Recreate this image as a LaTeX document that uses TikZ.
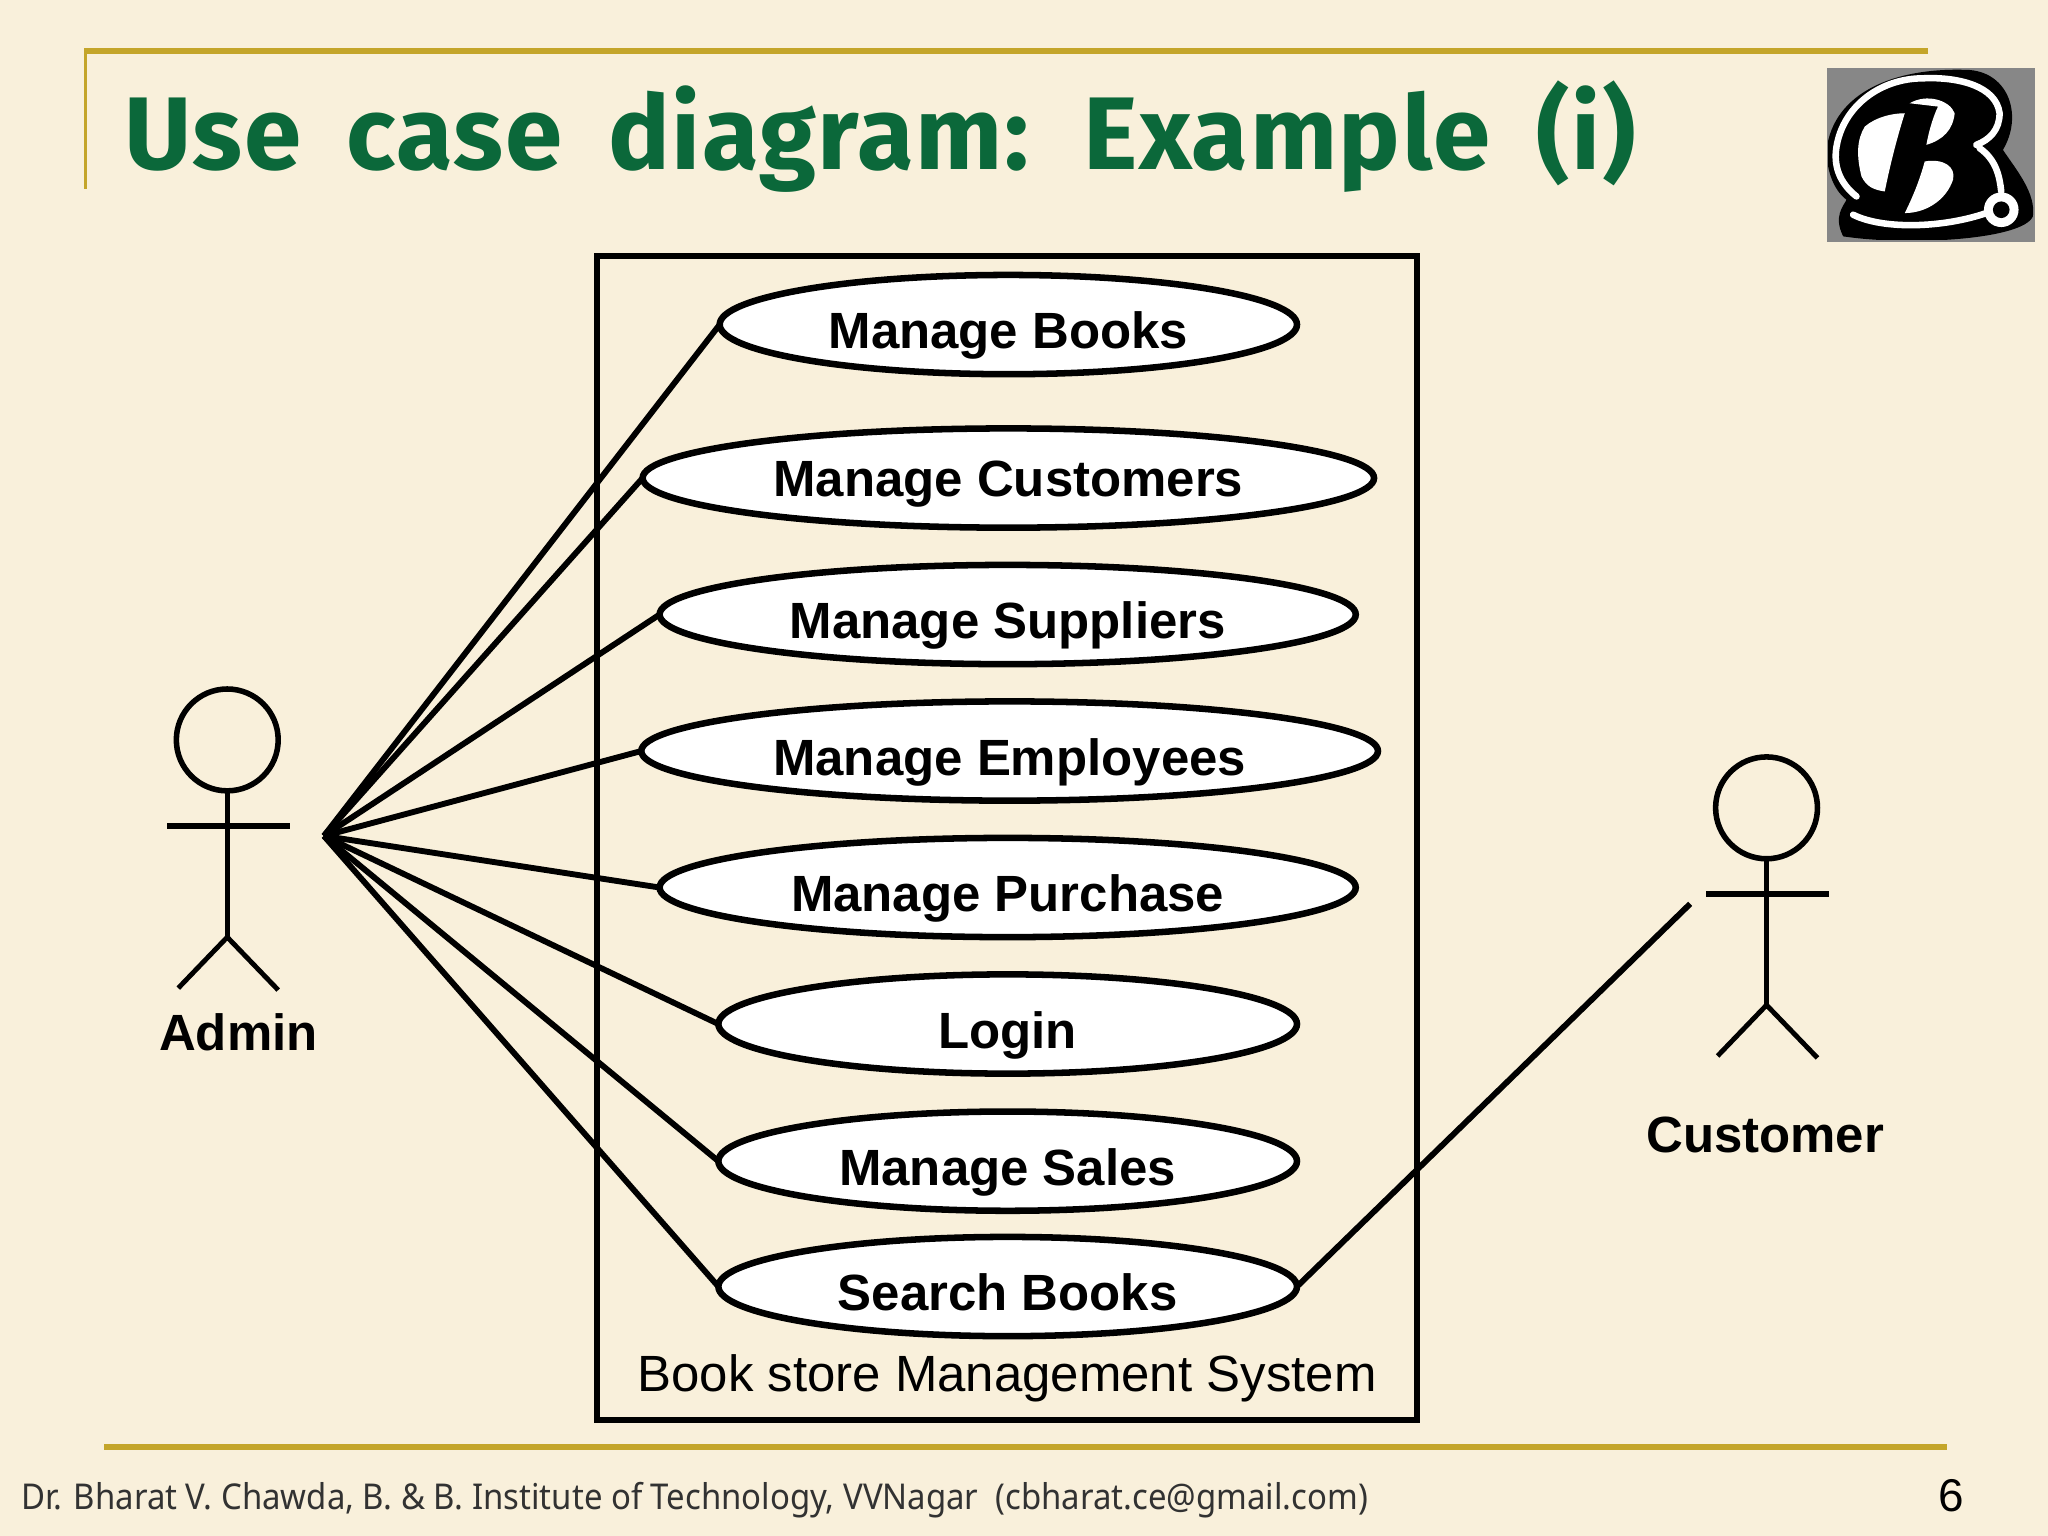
\documentclass[tikz,border=0pt]{standalone}
\usepackage{fontspec}
\usetikzlibrary{shapes.geometric}
\setmainfont{Liberation Sans}
\newfontfamily\titlefont[LetterSpace=1.5, WordSpace=1.755]{Fira Sans}
\newfontfamily\footfont{Noto Sans}
\definecolor{paper}{RGB}{249,240,219}
\definecolor{rulegold}{RGB}{196,165,42}
\definecolor{titlegreen}{RGB}{11,104,58}
\definecolor{footgrey}{RGB}{50,50,50}
\definecolor{logogrey}{RGB}{135,135,135}
\tikzset{
    usecase/.style={draw=black, fill=white, ellipse, line width=0.1cm, inner sep=0pt, outer sep=0pt,
            text depth=0cm, minimum height=1.52cm, font=\fontsize{22.2}{24}\selectfont\bfseries},
    assoc/.style={draw=black, line width=0.09cm},
    limb/.style={draw=black, line width=0.075cm},
    actorname/.style={font=\fontsize{22.2}{24}\selectfont\bfseries},
    logoband/.style={draw=white, line width=0.1cm, line cap=round, line join=round},
}
\begin{document}
\begin{tikzpicture}[x=0.02cm, y=-0.02cm]
        \useasboundingbox (0, 0) rectangle (1568, 1176);
        \fill [paper] (0, 0) rectangle (1568, 1176);
        % header and footer rules
        \fill [rulegold] (64, 36.5) rectangle (1476, 41.5);
        \fill [rulegold] (64, 36.5) rectangle (66.5, 145);
        \fill [rulegold] (80, 1105.5) rectangle (1491, 1110.5);
        \node [anchor=base west, inner sep=0pt, text=titlegreen, font=\fontsize{45}{47}\selectfont\titlefont\bfseries] (title) at (95, 130) {Use case diagram: Example (i)};
        % logo, in units of its own
        \fill [logogrey] (1399, 52) rectangle (1558, 185);
        \begin{scope}[shift={(1385.7, 38.3)}, x=0.0051cm, y=-0.0051cm]
            \clip (55, 55) rectangle (672, 570);
            \fill [black] (50, 300) .. controls (70, 130) and (250, 50) .. (480, 60) .. controls (600, 70) and (640, 200) .. (580, 300) .. controls (620, 360) and (680, 430) .. (670, 500) .. controls (640, 570) and (300, 590) .. (100, 560) .. controls (70, 500) and (100, 470) .. (110, 450) .. controls (70, 420) and (50, 360) .. (50, 300) -- cycle;
            \draw [logoband] (140, 440) .. controls (90, 400) and (70, 350) .. (80, 290) .. controls (100, 170) and (210, 85) .. (340, 85) .. controls (450, 80) and (560, 110) .. (570, 190) .. controls (570, 240) and (540, 270) .. (500, 285);
            \draw [logoband] (130, 495) .. controls (220, 540) and (400, 535) .. (530, 490);
            \draw [logoband] (510, 295) .. controls (560, 330) and (570, 380) .. (575, 425);
            \fill [white] (165, 230) .. controls (200, 200) and (250, 190) .. (285, 190) .. controls (260, 270) and (240, 350) .. (225, 425) .. controls (190, 420) and (170, 410) .. (155, 380) .. controls (140, 320) and (140, 270) .. (165, 230) -- cycle;
            \fill [white] (300, 160) .. controls (350, 130) and (420, 150) .. (435, 190) .. controls (430, 240) and (400, 270) .. (350, 285) .. controls (360, 230) and (375, 190) .. (385, 170) -- cycle;
            \fill [white] (345, 335) .. controls (400, 325) and (440, 350) .. (430, 390) .. controls (410, 450) and (350, 490) .. (285, 490) .. controls (310, 440) and (330, 390) .. (345, 335) -- cycle;
            \fill [white] (575, 480) circle [radius=52];
            \fill [black] (575, 480) circle [radius=25];
        \end{scope}
        % system box
        \draw [black, line width=0.09cm] (457, 196) rectangle (1085, 1087);
        \node [font=\fontsize{22.2}{24}\selectfont] (system) at (771, 1055) {Book store Management System};
        % actors
        \foreach \a/\x/\y in {admin/174/566.5, customer/1352.5/618.5}{
                \node [draw=black, circle, line width=0.085cm, minimum size=1.56cm, inner sep=0pt, outer sep=0pt] (\a) at (\x, \y) {};
                \coordinate (\a hip) at (\x, \y+151);
                \coordinate (\a armL) at (\x-46, \y+66);
                \coordinate (\a armR) at (\x+48, \y+66);
                \coordinate (\a legL) at (\x-37.5, \y+190);
                \coordinate (\a legR) at (\x+39, \y+191.5);
                \draw [limb] (\a.south) -- (\a hip);
                \draw [limb, line width=0.09cm] (\a armL) -- (\a armR);
                \draw [limb] (\a legL) -- (\a hip) -- (\a legR);
            }
        \node [actorname] (adminlabel) at (182.5, 790) {Admin};
        \node [actorname] (customerlabel) at (1351.5, 869) {Customer};
        % use cases
        \foreach \n/\x/\y/\w/\h/\t in {books/772/248.5/442/0.74/Manage Books, customers/772/366/560/0.58/Manage Customers, suppliers/771.5/470.5/533/0.74/Manage Suppliers, employees/773/575/564/0.74/Manage Employees, purchase/771.5/679.5/533/0.74/Manage Purchase, login/771.5/784/443/0.74/Login, sales/771.5/889/443/0.74/Manage Sales, search/771.5/985/443/0.74/Search Books}{
                \node [usecase, minimum width=\w*0.02cm, text height=\h cm] (\n) at (\x, \y) {\t};
            }
        % associations
        \coordinate (adminend) at (248, 640);
        \coordinate (customerend) at (1294, 692);
        \foreach \n in {books, customers, suppliers, employees, purchase, login, sales, search}{
                \draw [assoc] (adminend) -- (\n.west);
            }
        \draw [assoc] (search.east) -- (customerend);
        % footer
        \node [anchor=base west, inner sep=0pt, text=footgrey, xscale=0.925, font=\fontsize{15.5}{17}\selectfont\footfont] (footer) at (16, 1156) {Dr. Bharat V. Chawda, B. \& B. Institute of Technology, VVNagar\ \ (cbharat.ce@gmail.com)};
        \node [anchor=base, inner sep=0pt, font=\fontsize{20}{22}\selectfont] (page) at (1494, 1157) {6};
    \end{tikzpicture}
\end{document}
